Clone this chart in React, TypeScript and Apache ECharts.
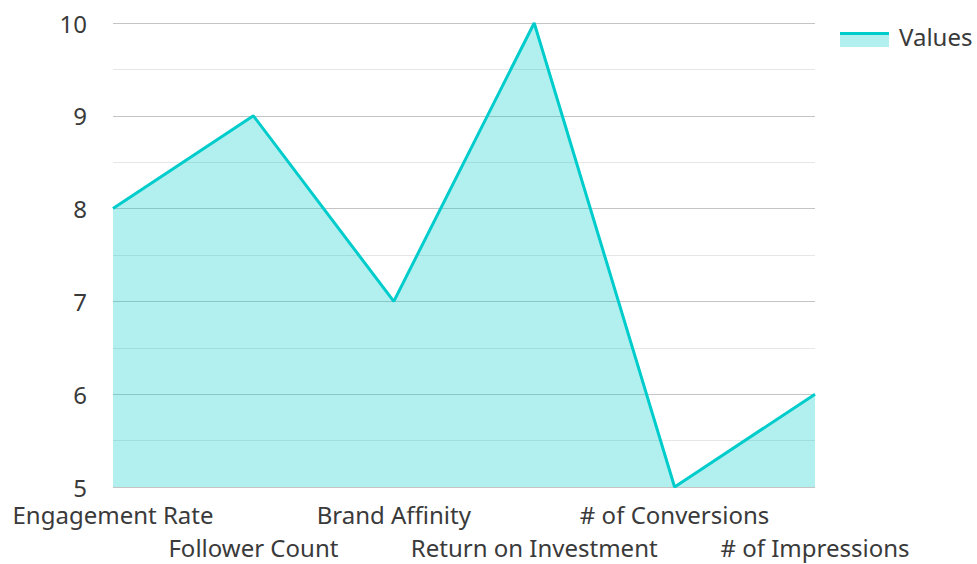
import React, { useEffect, useRef } from "react";
import * as echarts from "echarts";

const categories = [
  "Engagement Rate",
  "Follower Count",
  "Brand Affinity",
  "Return on Investment",
  "# of Conversions",
  "# of Impressions",
];
const values = [8, 9, 7, 10, 5, 6];
const seriesName = "Values";

const FONT = "Noto Sans";
const TEAL = "#00cccc";
const TEXT = "#3a3a3a";

export default function App() {
  const ref = useRef<HTMLDivElement>(null);
  useEffect(() => {
    document.body.style.margin = "0";
    if (!ref.current) return;
    const chart = echarts.init(ref.current, undefined, { renderer: "svg" });
    chart.setOption({
      animation: false,
      textStyle: { fontFamily: FONT },
      grid: { left: 113, right: 162, top: 23, bottom: 74 },
      xAxis: {
        type: "category",
        data: categories,
        boundaryGap: false,
        axisLine: { show: false },
        axisTick: { show: false },
        splitLine: { show: false },
        axisLabel: {
          interval: 0,
          margin: 11,
          fontSize: 24,
          color: TEXT,
          fontFamily: FONT,
          lineHeight: 33,
          verticalAlign: "top",
          formatter: (v: string, i: number) => (i % 2 === 1 ? "\n" + v : v),
        },
      },
      yAxis: {
        type: "value",
        min: 5,
        max: 10,
        interval: 1,
        axisLine: { show: false },
        axisTick: { show: false },
        axisLabel: { fontSize: 24, color: TEXT, margin: 26, fontFamily: FONT },
        splitLine: { lineStyle: { color: "#c4c4c4", width: 1 } },
        minorTick: { show: false, splitNumber: 2 },
        minorSplitLine: { show: true, lineStyle: { color: "#e6e6e6", width: 1 } },
      },
      graphic: [
        { type: "rect", shape: { x: 840, y: 35, width: 49, height: 12 }, style: { fill: "rgba(0,204,204,0.3)" } },
        { type: "rect", shape: { x: 840, y: 32, width: 49, height: 3 }, style: { fill: TEAL } },
        {
          type: "text",
          x: 899,
          y: 36,
          style: { text: seriesName, fontSize: 24, fill: TEXT, fontFamily: FONT, verticalAlign: "middle", align: "left" },
        },
      ],
      series: [
        {
          name: seriesName,
          type: "line",
          data: values,
          symbol: "none",
          lineStyle: { color: TEAL, width: 3 },
          areaStyle: { color: TEAL, opacity: 0.3 },
        },
      ],
    });
    return () => chart.dispose();
  }, []);
  return <div ref={ref} style={{ width: 977, height: 564 }} />;
}
